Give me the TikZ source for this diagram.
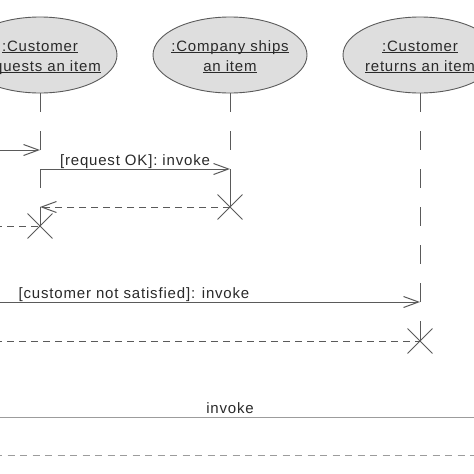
\documentclass[tikz,border=0pt]{standalone}
\usepackage{fontspec}
\setmainfont{Liberation Sans}[LetterSpace=5.5]
\usetikzlibrary{arrows.meta,shapes.geometric,shapes.misc}
\definecolor{ln}{HTML}{5A5A5A}
\definecolor{lnl}{HTML}{9C9C9C}
\definecolor{fillg}{HTML}{DEDEDE}
\definecolor{txt}{HTML}{2A2A2A}
\newcommand\myul[1]{\setbox0\hbox{#1}\rlap{\rule[-1.8pt]{\wd0}{0.9pt}}\box0}
\tikzset{
  life/.style={draw=ln, line width=1pt, dash pattern=on 19pt off 19pt},
  actline/.style={draw=ln, line width=1pt},
  obj/.style={ellipse, draw=ln, fill=fillg, line width=0.9pt, minimum width=154pt, minimum height=76pt, inner sep=0pt},
  msg/.style={draw=ln, line width=1pt, -{Straight Barb[length=15pt,width=11pt]}},
  ret/.style={draw=ln, line width=1pt, dash pattern=on 7pt off 5pt},
  retarrow/.style={ret, -{Straight Barb[length=15pt,width=11pt]}},
  kill/.style={cross out, draw=ln, line width=0.9pt, minimum size=24pt, inner sep=0pt},
  lbl/.style={text=txt, inner sep=0pt, anchor=base},
  faint/.style={draw=lnl, line width=1pt},
}
\begin{document}
\begin{tikzpicture}[x=1pt, y=-1pt, font=\fontsize{15}{20}\selectfont]
\clip (0,0) rectangle (474,474);
\fill[white] (0,0) rectangle (474,474);
% objects
\node[obj] (e1) at (40,55) {};
\node[obj] (e2) at (230,55) {};
\node[obj] (e3) at (420,55) {};
\node[lbl] (t1a) at (40,51) {\myul{:Customer}};
\node[lbl] (t1b) at (40,71) {\myul{requests an item}};
\node[lbl] (t2a) at (230,51) {\myul{:Company ships}};
\node[lbl] (t2b) at (230,71) {\myul{an item}};
\node[lbl] (t3a) at (420,51) {\myul{:Customer}};
\node[lbl] (t3b) at (420,71) {\myul{returns an item}};
% coordinates
\coordinate (in1) at (-5,150);
\coordinate (a1) at (40,150);
\coordinate (s1) at (40,169);
\coordinate (s2) at (230,169);
\coordinate (r1) at (230,207);
\coordinate (r2) at (40,207);
\coordinate (out1) at (-5,226);
\coordinate (in2) at (-5,302);
\coordinate (a3) at (420,302);
\coordinate (out2) at (-5,341);
\coordinate (in3) at (-5,417);
\coordinate (e3r) at (480,417);
\coordinate (out3) at (-5,455);
\coordinate (e3rr) at (480,455);
% destruction marks
\node[kill] (k1) at (40,226) {};
\node[kill] (k2) at (230,207) {};
\node[kill] (k3) at (420,341) {};
% lifelines
\path[life] (e1.south) -- (k1.center);
\path[life] (e2.south) -- (s2);
\path[actline] (s2) -- (k2.center);
\path[life] (e3.south) -- (k3.center);
% messages
\path[msg] (in1) -- (a1);
\path[msg] (s1) -- node[lbl, yshift=4pt] (m2) {[request OK]: invoke} (s2);
\path[retarrow] (k2.center) -- (r2);
\path[ret] (out1) -- (k1.center);
\path[msg] (in2) -- (a3);
\node[lbl] (m5) at (134,298) {[customer not satisfied]: invoke};
\path[ret] (out2) -- (k3.center);
\path[faint] (in3) -- (e3r);
\node[lbl] (m7) at (230,413) {invoke};
\path[faint, dash pattern=on 7pt off 5.5pt] (out3) -- (e3rr);
\end{tikzpicture}
\end{document}
